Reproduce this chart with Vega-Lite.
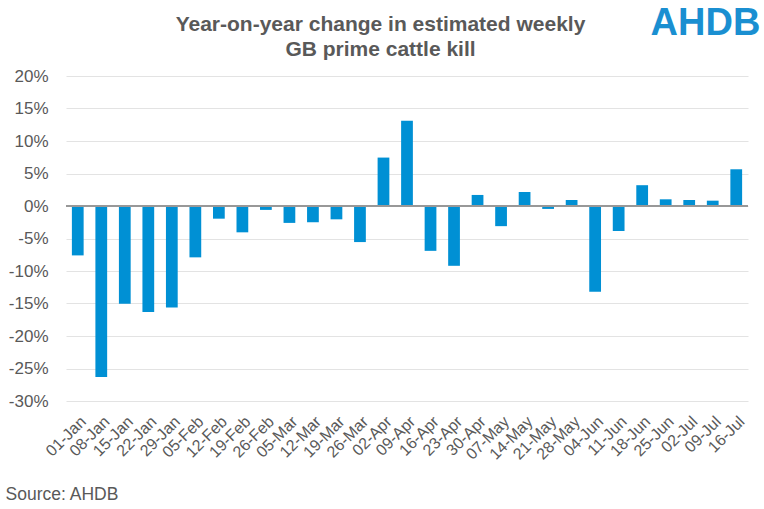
{
  "$schema": "https://vega.github.io/schema/vega-lite/v6.json",
  "autosize": "none",
  "width": 682,
  "height": 325,
  "padding": {"left": 66, "top": 76, "right": 16, "bottom": 108},
  "background": "white",
  "config": {
    "view": {"stroke": null},
    "font": "Liberation Sans"
  },
  "data": {
    "values": [
      {"week": "01-Jan", "change": -7.6},
      {"week": "08-Jan", "change": -26.3},
      {"week": "15-Jan", "change": -15.05},
      {"week": "22-Jan", "change": -16.3},
      {"week": "29-Jan", "change": -15.6},
      {"week": "05-Feb", "change": -7.9},
      {"week": "12-Feb", "change": -1.95},
      {"week": "19-Feb", "change": -4.05},
      {"week": "26-Feb", "change": -0.6},
      {"week": "05-Mar", "change": -2.6},
      {"week": "12-Mar", "change": -2.5},
      {"week": "19-Mar", "change": -2.05},
      {"week": "26-Mar", "change": -5.55},
      {"week": "02-Apr", "change": 7.45},
      {"week": "09-Apr", "change": 13.1},
      {"week": "16-Apr", "change": -6.9},
      {"week": "23-Apr", "change": -9.2},
      {"week": "30-Apr", "change": 1.7},
      {"week": "07-May", "change": -3.1},
      {"week": "14-May", "change": 2.15},
      {"week": "21-May", "change": -0.45},
      {"week": "28-May", "change": 0.92},
      {"week": "04-Jun", "change": -13.2},
      {"week": "11-Jun", "change": -3.85},
      {"week": "18-Jun", "change": 3.2},
      {"week": "25-Jun", "change": 1.03},
      {"week": "02-Jul", "change": 0.92},
      {"week": "09-Jul", "change": 0.82},
      {"week": "16-Jul", "change": 5.65}
    ]
  },
  "resolve": {"axis": {"y": "independent"}},
  "layer": [
    {
      "mark": {"type": "bar", "color": "#0090d4"},
      "encoding": {
        "x": {
          "field": "week",
          "type": "ordinal",
          "sort": null,
          "scale": {"paddingInner": 0.5, "paddingOuter": 0.25},
          "axis": {
            "labelAngle": -45,
            "labelFontSize": 16,
            "labelColor": "#595959",
            "labelPadding": 12,
            "ticks": false,
            "domain": false,
            "grid": false,
            "title": "Source: AHDB",
            "titleFontSize": 17.5,
            "titleFontWeight": "normal",
            "titleColor": "#595959",
            "titleAnchor": "start",
            "titleAlign": "left",
            "titleBaseline": "middle",
            "titleX": -61,
            "titleY": 93
          }
        },
        "y": {
          "field": "change",
          "type": "quantitative",
          "scale": {"domain": [-30, 20], "nice": false},
          "axis": {
            "values": [-30, -25, -20, -15, -10, -5, 0, 5, 10, 15, 20],
            "labelExpr": "datum.value + '%'",
            "labelFontSize": 17,
            "labelColor": "#595959",
            "labelPadding": 18,
            "ticks": false,
            "domain": false,
            "gridColor": "#e3e3e3",
            "gridWidth": 1,
            "title": ["Year-on-year change in estimated weekly", "GB prime cattle kill"],
            "titleFontSize": 21,
            "titleFontWeight": "bold",
            "titleColor": "#595959",
            "titleAngle": 0,
            "titleAlign": "center",
            "titleBaseline": "top",
            "titleLineHeight": 25,
            "titleX": 314,
            "titleY": -63
          }
        }
      }
    },
    {
      "mark": {"type": "rule", "color": "#999999", "strokeWidth": 1.3},
      "encoding": {
        "y": {
          "datum": 0,
          "type": "quantitative",
          "scale": {"domain": [-30, 20], "nice": false},
          "axis": {
            "orient": "right",
            "labels": false,
            "ticks": false,
            "domain": false,
            "grid": false,
            "title": "AHDB",
            "titleAngle": 0,
            "titleFontSize": 38,
            "titleFontWeight": 600,
            "titleFont": "Liberation Sans",
            "titleColor": "#1a8fd1",
            "titleAlign": "center",
            "titleBaseline": "alphabetic",
            "titleX": -43,
            "titleY": -42
          }
        }
      }
    }
  ]
}
